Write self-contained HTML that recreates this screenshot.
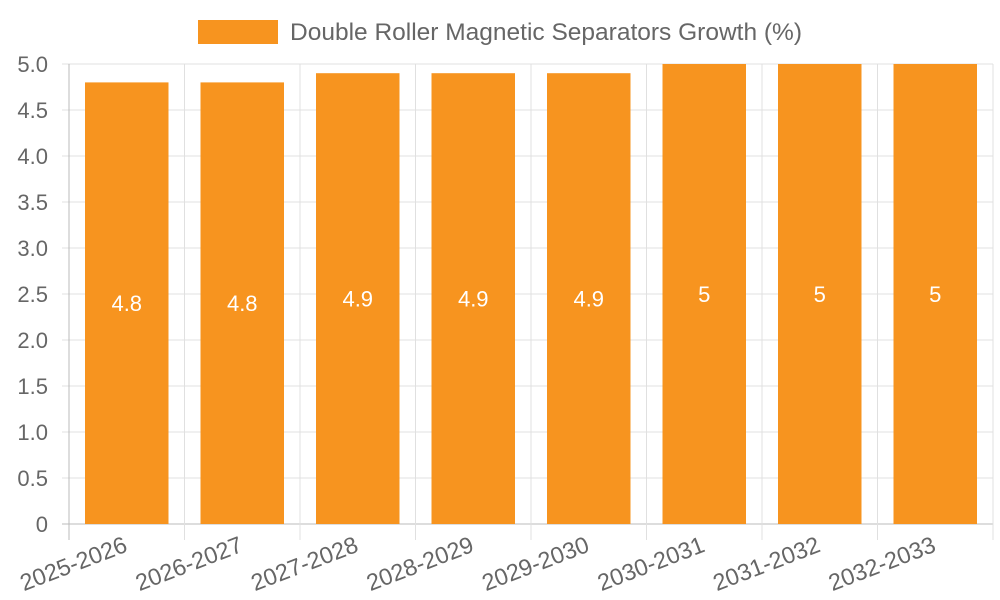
<!DOCTYPE html>
<html><head><meta charset="utf-8"><style>
body{margin:0;background:#fff;}
svg{display:block;font-family:"Liberation Sans",sans-serif;}
</style></head><body>
<svg id="chart" width="1000" height="600">
<g>
<rect x="198" y="20" width="80" height="24" fill="#f7941f"/>
<text x="290" y="40" font-size="24.5" fill="#666">Double Roller Magnetic Separators Growth (%)</text>
</g>
<g id="grid"></g><g id="bars"></g><g id="labels"></g>
</svg>
<script>
const categories=["2025-2026","2026-2027","2027-2028","2028-2029","2029-2030","2030-2031","2031-2032","2032-2033"];
const values=[4.8,4.8,4.9,4.9,4.9,5,5,5];
const yTicks=[0,0.5,1.0,1.5,2.0,2.5,3.0,3.5,4.0,4.5,5.0];
const yTickLabels=["0","0.5","1.0","1.5","2.0","2.5","3.0","3.5","4.0","4.5","5.0"];
const NS="http://www.w3.org/2000/svg";
const L=69,R=993,T=64,B=524,yMax=5;
const y=v=>B-(v/yMax)*(B-T);
const bw=(R-L)/categories.length;
const x=i=>L+i*bw;
function mk(tag,attrs,parent){const e=document.createElementNS(NS,tag);for(const k in attrs)e.setAttribute(k,attrs[k]);parent.appendChild(e);return e;}
const grid=document.getElementById('grid'),bars=document.getElementById('bars'),labels=document.getElementById('labels');
yTicks.forEach((t,i)=>{
 const l=mk('line',{x1:L-7,x2:R,y1:y(t),y2:y(t),stroke:i===0?'#bbb':'#e0e0e0','stroke-width':1},grid);
 
 
 const tx=mk('text',{x:48,y:y(t)+8,'font-size':22,fill:'#666','text-anchor':'end'},grid);
 tx.textContent=yTickLabels[i];
 
 
});
for(let i=0;i<=categories.length;i++){
 const l=mk('line',{x1:x(i),x2:x(i),y1:T,y2:B+16,stroke:i===0?'#bbb':'#e0e0e0','stroke-width':1},grid);
 
 
}
categories.forEach((c,i)=>{
 const pad=16,bx=x(i)+pad,w=bw-2*pad,top=y(values[i]);
 const r=mk('rect',{x:bx,y:top,width:w,height:B-top,fill:'#f7941f'},bars);
 
 
 const v=mk('text',{x:bx+w/2,y:(top+B)/2+8,'font-size':22,fill:'#fff','text-anchor':'middle'},labels);
 v.textContent=String(values[i]);
 
 
 const cx=x(i)+bw/2;
 const ax=cx+2, ay=551;
 const t=mk('text',{x:ax,y:ay,'font-size':23.5,fill:'#666','text-anchor':'end',transform:`rotate(-21 ${ax} ${ay})`},labels);
 t.textContent=c;
 
 
});
</script>
</body></html>
